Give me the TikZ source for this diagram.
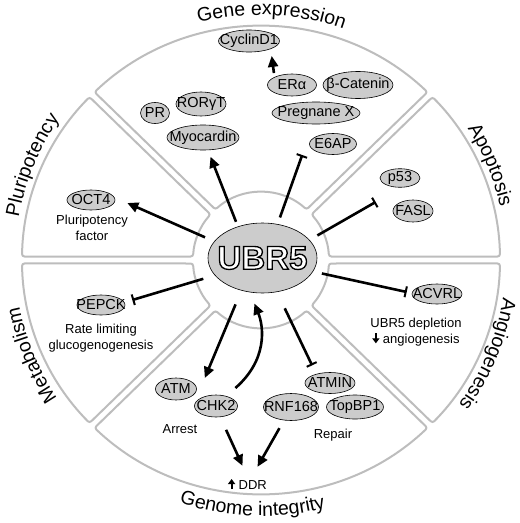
\documentclass[tikz,border=0pt]{standalone}
\usepackage{fontspec}
\setmainfont{Liberation Sans}
\newfontfamily\ubrfont{Liberation Sans Bold}[FakeBold=4]
\usetikzlibrary{arrows.meta,shapes.geometric,decorations.text,calc}

\definecolor{protgray}{gray}{0.8}
\definecolor{ringgray}{gray}{0.74}

\newcommand{\arcfont}{\fontsize{19.5}{19.5}\selectfont}
\newcommand{\lbl}[1]{\makebox[0pt]{#1}}
\newcommand{\arrup}{\tikz[baseline=0pt]\draw[line width=2pt,-{Triangle[length=5pt,width=7pt]}] (0,0) -- (0,10pt);}
\newcommand{\arrdown}{\tikz[baseline=0pt]\draw[line width=2pt,-{Triangle[length=5pt,width=7pt]}] (0,10pt) -- (0,0);}

\tikzset{
  sector/.style={draw=ringgray, line width=2pt, fill=white, rounded corners=2.5pt},
  prot/.style={ellipse, draw, line width=0.6pt, fill=protgray, inner sep=0pt,
    minimum height=22pt, minimum width=#1, font=\fontsize{14.5}{14.5}\selectfont},
  caption/.style={align=center, font=\fontsize{13}{16}\selectfont},
  act/.style={line width=2.6pt, -{Triangle[length=11pt,width=10pt]}},
  inh/.style={line width=2.6pt, -{Bar[width=11pt,line width=2pt]}},
  arclabel/.style={decorate, decoration={text along path, text align=center, text={|\arcfont|#1}}}
}

\begin{document}
\begin{tikzpicture}[x=1pt,y=1pt]
  \useasboundingbox (-261,-263) rectangle (259,260);
  \foreach \a/\b in {45/135,0/45,-45/0,-135/-45,180/225,135/180}
    \draw[sector] ({\a+0.85}:239 and 234) arc[start angle={\a+0.85}, end angle={\b-0.85}, x radius=239, y radius=234]
      -- ({\b-2.95}:68) arc[start angle={\b-2.95}, end angle={\a+2.95}, radius=68] -- cycle;

  \path[arclabel={Gene expression}] (133:245) arc[start angle=133, end angle=42, radius=245];
  \path[arclabel=Pluripotency] (180:246) arc[start angle=180, end angle=135, radius=246];
  \path[arclabel=Apoptosis] (45:245) arc[start angle=45, end angle=0, radius=245];
  \path[arclabel=Angiogenesis] (0:245) arc[start angle=0, end angle=-45, radius=245];
  \path[arclabel=Metabolism] (225:246) arc[start angle=225, end angle=180, radius=246];
  \path[arclabel={Genome integrity}] (223:256) arc[start angle=223, end angle=313, radius=256];

  \node[prot=109, minimum height=70pt] (ubr) at (1.5,2)
    {\lbl{\ubrfont\fontsize{33}{33}\selectfont\color{white}\special{pdf:literal 0 G}UBR5}};

  \node[prot=61] (cyc) at (-12,219) {\lbl{CyclinD1}};
  \node[prot=49] (era) at (31,175) {\lbl{ERα}};
  \node[prot=70, minimum height=27pt] (bcat) at (97,175) {\lbl{β-Catenin}};
  \node[prot=88] (preg) at (55,147) {\lbl{Pregnane X}};
  \node[prot=47, minimum height=21pt] (e6ap) at (72,116) {\lbl{E6AP}};
  \node[prot=29, minimum height=21pt] (pr) at (-106,147) {\lbl{PR}};
  \node[prot=50, minimum height=24pt] (ror) at (-60,156) {\lbl{RORγT}};
  \node[prot=72, minimum height=25pt] (myo) at (-58,122.5) {\lbl{Myocardin}};

  \node[prot=48, minimum height=20pt] (oct) at (-170,60) {\lbl{OCT4}};
  \node[caption] (plf) at (-169,32) {Pluripotency\\factor};

  \node[prot=40, minimum height=18pt] (p53) at (139,82) {\lbl{p53}};
  \node[prot=40] (fasl) at (152,49) {\lbl{FASL}};

  \node[prot=50, minimum height=20pt] (acvrl) at (176,-34) {\lbl{ACVRL}};
  \node[caption] (dep) at (155,-72) {UBR5 depletion\\\arrdown\ angiogenesis};

  \node[prot=48, minimum height=20pt] (pepck) at (-160,-45) {\lbl{PEPCK}};
  \node[caption] (rlg) at (-160,-78) {Rate limiting\\glucogenogenesis};

  \node[prot=41] (atm) at (-85,-129) {\lbl{ATM}};
  \node[prot=43] (chk) at (-45,-146) {\lbl{CHK2}};
  \node[caption] (arrest) at (-81,-169) {Arrest};
  \node[prot=50, minimum height=21pt] (atmin) at (69,-123) {\lbl{ATMIN}};
  \node[prot=55, minimum height=27pt] (rnf) at (30,-147) {\lbl{RNF168}};
  \node[prot=57, minimum height=24pt] (topbp) at (94,-147) {\lbl{TopBP1}};
  \node[caption] (repair) at (72,-175) {Repair};
  \node[caption, inner sep=0pt] (ddr) at (-13.5,-224) {\arrup\ DDR};

  \draw[act, shorten <=4pt, shorten >=7pt] (era.north west) -- (cyc.south east);
  \draw[act, shorten <=5pt, shorten >=7pt] (ubr.128) -- (myo);
  \draw[inh, shorten <=7pt] (ubr.66) -- ($(e6ap.west)+(-7,-11)$);
  \draw[act, shorten <=10pt] (ubr.161) -- ($(oct.east)+(12,-3)$);
  \draw[inh, shorten <=9pt] (ubr.21) -- ($(fasl.west)+(-17,9)$);
  \draw[inh, shorten <=9pt] (ubr.345.5) -- ($(acvrl.west)+(-5,2)$);
  \draw[inh, shorten <=12pt] (ubr.200) -- ($(pepck.east)+(7,5)$);
  \draw[act, shorten <=15pt] (ubr.237) -- ($(atm.east)+(8,11)$);
  \draw[inh, shorten <=18pt] (ubr.293.4) -- ($(atmin.north west)+(0,10)$);
  \draw[act, shorten >=12pt] ($(chk.north east)+(4,10)$) .. controls +(32,28) and +(14,-35) .. (ubr.250);
  \draw[act, shorten <=14pt] (chk.291) -- ($(ddr.north)+(-5,12)$);
  \draw[act, shorten <=9pt] (rnf.242) -- ($(ddr.north)+(10,11)$);
\end{tikzpicture}
\end{document}
